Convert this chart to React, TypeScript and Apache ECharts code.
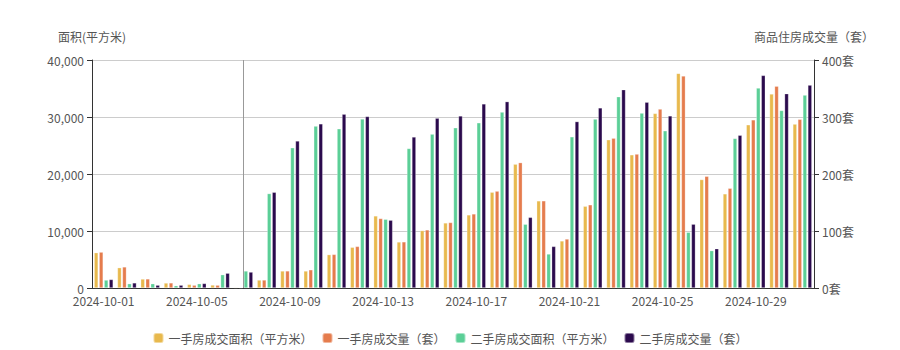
import React, { useEffect, useRef } from "react";
import * as echarts from "echarts";

const days: string[] = [
  "2024-10-01", "2024-10-02", "2024-10-03", "2024-10-04", "2024-10-05", "2024-10-06", "2024-10-07",
  "2024-10-08", "2024-10-09", "2024-10-10", "2024-10-11", "2024-10-12", "2024-10-13", "2024-10-14",
  "2024-10-15", "2024-10-16", "2024-10-17", "2024-10-18", "2024-10-19", "2024-10-20", "2024-10-21",
  "2024-10-22", "2024-10-23", "2024-10-24", "2024-10-25", "2024-10-26", "2024-10-27", "2024-10-28",
  "2024-10-29", "2024-10-30", "2024-10-31",
];

const newArea: number[] = [
  6200, 3570, 1580, 880, 640, 530, 120,
  1400, 2990, 2990, 5860, 7150, 12650, 8080,
  10080, 11420, 12830, 16810, 21730, 15290, 8260,
  14350, 26000, 23370, 30630, 37660, 19030, 16520,
  28640, 34030, 28760,
];
const newCount: number[] = [
  63, 37, 16, 9, 5, 5, 1,
  14, 30, 32, 59, 73, 122, 81,
  102, 115, 130, 170, 220, 153, 86,
  146, 263, 235, 314, 372, 196, 175,
  295, 354, 296,
];
const secondArea: number[] = [
  1400, 760, 760, 410, 760, 2340, 2990,
  16570, 24600, 28410, 27940, 29640, 12060, 24480,
  27000, 28110, 28990, 30870, 11190, 5970, 26530,
  29640, 33560, 30690, 27590, 9780, 6560, 26240,
  35090, 31160, 33850,
];
const secondCount: number[] = [
  15, 9, 5, 5, 8, 26, 28,
  168, 258, 288, 305, 301, 119, 265,
  298, 302, 323, 327, 124, 73, 292,
  316, 348, 326, 302, 112, 69, 268,
  373, 341, 356,
];

const seriesNames: string[] = [
  "一手房成交面积（平方米）",
  "一手房成交量（套）",
  "二手房成交面积（平方米）",
  "二手房成交量（套）",
];
const colors: string[] = ["#E8B94D", "#E57C4D", "#5BCF97", "#2B0A4D"];
const markDay = "2024-10-07";

export default function App() {
  const ref = useRef<HTMLDivElement>(null);
  useEffect(() => {
    if (!ref.current) return;
    const chart = echarts.init(ref.current, undefined, { renderer: "svg" });
    const font = "'Noto Sans CJK SC', 'Noto Sans', sans-serif";
    const barCommon = {
      type: "bar" as const,
      barWidth: 4,
      barGap: "25%",
      itemStyle: { borderColor: "rgba(255,255,255,0.45)", borderWidth: 0.6 },
    };
    chart.setOption({
      animation: false,
      textStyle: { fontFamily: font },
      color: colors,
      grid: { left: 84, right: 78, top: 52, bottom: 62 },
      legend: {
        top: 319,
        left: "center",
        icon: "roundRect",
        itemWidth: 10,
        itemHeight: 10,
        itemGap: 9,
        textStyle: { color: "#555", fontSize: 12, fontFamily: font },
        data: seriesNames,
      },
      xAxis: {
        type: "category",
        data: days,
        axisLine: { lineStyle: { color: "#333" } },
        axisTick: {
          alignWithLabel: true,
          interval: (i: number) => i % 4 === 2,
          lineStyle: { color: "#333" },
        },
        axisLabel: { interval: 3, color: "#555", fontSize: 12, margin: 6 },
      },
      yAxis: [
        {
          type: "value",
          name: "面积(平方米)",
          nameTextStyle: { color: "#555", fontSize: 12, align: "center", padding: [0, 0, 3, 0] },
          min: 0,
          max: 40000,
          interval: 10000,
          axisLine: { show: true, lineStyle: { color: "#333" } },
          axisTick: { show: true, lineStyle: { color: "#333" } },
          axisLabel: {
            color: "#555",
            fontSize: 12,
            formatter: (v: number) => v.toLocaleString("en-US"),
          },
          splitLine: { lineStyle: { color: "#ccc" } },
        },
        {
          type: "value",
          name: "商品住房成交量（套）",
          nameTextStyle: { color: "#555", fontSize: 12, align: "center", padding: [0, 0, 3, 0] },
          min: 0,
          max: 400,
          interval: 100,
          axisLine: { show: true, lineStyle: { color: "#333" } },
          axisTick: { show: true, lineStyle: { color: "#333" } },
          axisLabel: { color: "#555", fontSize: 12, formatter: "{value}套" },
          splitLine: { show: false },
        },
      ],
      series: [
        { ...barCommon, name: seriesNames[0], yAxisIndex: 0, data: newArea },
        { ...barCommon, name: seriesNames[1], yAxisIndex: 1, data: newCount },
        { ...barCommon, name: seriesNames[2], yAxisIndex: 0, data: secondArea },
        { ...barCommon, name: seriesNames[3], yAxisIndex: 1, data: secondCount },
        {
          type: "line",
          name: "marker",
          data: [],
          yAxisIndex: 0,
          silent: true,
          markLine: {
            silent: true,
            symbol: "none",
            label: { show: false },
            lineStyle: { color: "#999", type: "solid", width: 1 },
            data: [{ xAxis: markDay }],
          },
        },
      ],
    });
    return () => chart.dispose();
  }, []);
  return <div ref={ref} style={{ width: 884, height: 342 }} />;
}
